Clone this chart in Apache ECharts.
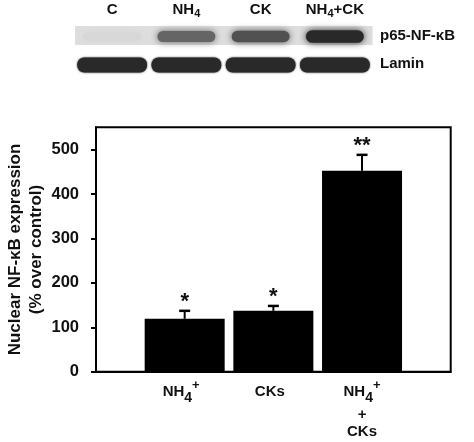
<!DOCTYPE html>
<html>
<head>
<meta charset="utf-8">
<script src="https://cdn.jsdelivr.net/npm/echarts@6/dist/echarts.min.js"></script>
<style>html,body{margin:0;padding:0;background:#fff}#c{width:474px;height:442px}</style>
</head>
<body>
<div id="c"></div>
<script>
// ---- Bar chart data ----
const categories = ['', 'NH4+', 'CKs', 'NH4+ + CKs', ''];
const values = ['-', 119, 137, 452, '-'];
const errors = ['-', 18, 11, 36, '-'];
const significance = ['', '*', '*', '**', ''];
const yTicks = [0, 100, 200, 300, 400, 500];

// ---- Western blot (lane densities, estimated 0..1) ----
const blotLanes = ['C', 'NH4', 'CK', 'NH4+CK'];
const blotRows = ['p65-NF-κB', 'Lamin'];
const p65Band = [0.05, 0.62, 0.72, 0.92];
const laminBand = [0.9, 0.9, 0.9, 0.9];

const FONT = 'Liberation Sans';
const INK = '#111';

const richLabel = {
  t: { fontSize: 15, fontWeight: 'bold', fontFamily: FONT, color: INK, lineHeight: 26, verticalAlign: 'middle' },
  sub: { fontSize: 14, fontWeight: 'bold', fontFamily: FONT, color: INK, lineHeight: 14, verticalAlign: 'bottom' },
  sup: { fontSize: 13, fontWeight: 'bold', fontFamily: FONT, color: INK, lineHeight: 10, verticalAlign: 'top' },
  g: { width: 7, fontSize: 15, lineHeight: 26 },
  p: { fontSize: 15, fontWeight: 'bold', fontFamily: FONT, color: INK, lineHeight: 20, verticalAlign: 'middle' },
  q: { fontSize: 15, fontWeight: 'bold', fontFamily: FONT, color: INK, lineHeight: 14, verticalAlign: 'middle' }
};
function xLabel(c) {
  if (c === 'NH4+') return '{t|NH}{sub|4}{sup|+}{g| }';
  if (c === 'CKs') return '{t|CKs}{g| }';
  if (c === 'NH4+ + CKs') return '{t|NH}{sub|4}{sup|+}\n{p|+}\n{q|CKs}';
  return '';
}
const blotRich = {
  t: { fontSize: 15, fontWeight: 'bold', fontFamily: FONT, color: INK, lineHeight: 18, verticalAlign: 'middle' },
  sub: { fontSize: 11, fontWeight: 'bold', fontFamily: FONT, color: INK, lineHeight: 8, verticalAlign: 'bottom' }
};
function laneLabel(c) {
  return c.replace(/NH4/g, '{t|NH}{sub|4}').split(/(\{[^}]*\})/).map(s => s && s[0] !== '{' ? '{t|' + s + '}' : s).join('');
}

const barData = values.map((v, i) => v);
const errData = [];
values.forEach((v, i) => { if (v !== '-') errData.push([i, v, errors[i], i]); });

const blotData = [];
p65Band.forEach((d, i) => blotData.push([i, 0, d]));
laminBand.forEach((d, i) => blotData.push([i, 1, d]));

const chart = echarts.init(document.getElementById('c'), null, { renderer: 'canvas' });
chart.setOption({
  animation: false,
  backgroundColor: '#fff',
  textStyle: { fontFamily: FONT, color: INK },
  grid: [
    { left: 96, top: 127.3, right: 23.3, bottom: 70.3, show: true, borderColor: '#000', borderWidth: 2, containLabel: false, outerBoundsMode: 'none' },
    { left: 75, top: 22, width: 297, height: 56, containLabel: false, outerBoundsMode: 'none' }
  ],
  xAxis: [
    {
      type: 'category', gridIndex: 0, data: categories, boundaryGap: false,
      axisLine: { lineStyle: { color: '#000', width: 2 } },
      axisTick: { show: false },
      axisLabel: { interval: 0, margin: 7, formatter: xLabel, rich: richLabel, align: 'center' },
      splitLine: { show: false }
    },
    {
      type: 'category', gridIndex: 1, data: blotLanes, position: 'top',
      axisLine: { show: false }, axisTick: { show: false },
      axisLabel: { interval: 0, margin: 3, formatter: laneLabel, rich: blotRich }
    }
  ],
  yAxis: [
    {
      type: 'value', gridIndex: 0, min: 0, max: 550, interval: 100,
      name: 'Nuclear NF-κB expression\n(% over control)',
      nameLocation: 'middle', nameRotate: 90, nameGap: 49, nameMoveOverlap: false,
      nameTextStyle: { fontSize: 17, fontWeight: 'bold', fontFamily: FONT, color: INK, lineHeight: 21, align: 'center' },
      axisLine: { show: true, lineStyle: { color: '#000', width: 2 } },
      axisTick: { show: true, length: 5, inside: false, lineStyle: { color: '#000', width: 2 }, customValues: yTicks },
      axisLabel: { fontSize: 16.5, fontWeight: 'bold', fontFamily: FONT, color: INK, margin: 17, customValues: yTicks },
      splitLine: { show: false }
    },
    {
      type: 'category', gridIndex: 1, data: blotRows, inverse: true, position: 'right',
      axisLine: { show: false }, axisTick: { show: false },
      axisLabel: { fontSize: 15, fontWeight: 'bold', fontFamily: FONT, color: INK, margin: 8, align: 'left' }
    }
  ],
  series: [
    {
      type: 'bar', xAxisIndex: 0, yAxisIndex: 0, data: barData, barWidth: 80,
      itemStyle: { color: '#000' }, z: 2
    },
    {
      type: 'custom', xAxisIndex: 0, yAxisIndex: 0, data: errData, z: 3,
      renderItem: function (params, api) {
        const x = api.value(0), v = api.value(1), e = api.value(2);
        const idx = api.value(3);
        const p0 = api.coord([x, v]);
        const p1 = api.coord([x, v + e]);
        const cap = 5.5;
        return {
          type: 'group',
          children: [
            { type: 'line', shape: { x1: p0[0], y1: p0[1], x2: p1[0], y2: p1[1] }, style: { stroke: '#000', lineWidth: 2 } },
            { type: 'line', shape: { x1: p1[0] - cap, y1: p1[1], x2: p1[0] + cap, y2: p1[1] }, style: { stroke: '#000', lineWidth: 2.5 } },
            { type: 'text', style: { text: significance[idx], x: p1[0], y: p1[1] - 9, align: 'center', verticalAlign: 'middle', fontSize: 22, fontWeight: 'bold', fontFamily: FONT, fill: INK } }
          ]
        };
      }
    },
    {
      type: 'custom', xAxisIndex: 1, yAxisIndex: 1, data: blotData, z: 2,
      renderItem: function (params, api) {
        const l = api.value(0), r = api.value(1), d = api.value(2);
        const c = api.coord([l, r]);
        const s = api.size([1, 1]);
        const children = [];
        if (r === 0) {
          children.push({ type: 'rect', shape: { x: c[0] - s[0] / 2, y: c[1] - 10, width: s[0] + 0.6, height: 19 }, style: { fill: '#dedede' } });
          const g = Math.round(225 - 200 * d);
          const col = 'rgb(' + g + ',' + g + ',' + g + ')';
          const h = 8 + 5 * d;
          children.push({ type: 'rect', shape: { x: c[0] - s[0] * 0.39, y: c[1] - h / 2 + 0.5, width: s[0] * 0.78, height: h, r: h / 2 }, style: { fill: col, shadowBlur: 7, shadowColor: col } });
        } else {
          const g = Math.round(230 - 210 * d);
          const col = 'rgb(' + g + ',' + g + ',' + g + ')';
          children.push({ type: 'rect', shape: { x: c[0] - s[0] * 0.47, y: c[1] - 6.5, width: s[0] * 0.94, height: 15, r: 7 }, style: { fill: col, shadowBlur: 2, shadowColor: col } });
        }
        return { type: 'group', children: children };
      }
    }
  ]
});
</script>
</body>
</html>
